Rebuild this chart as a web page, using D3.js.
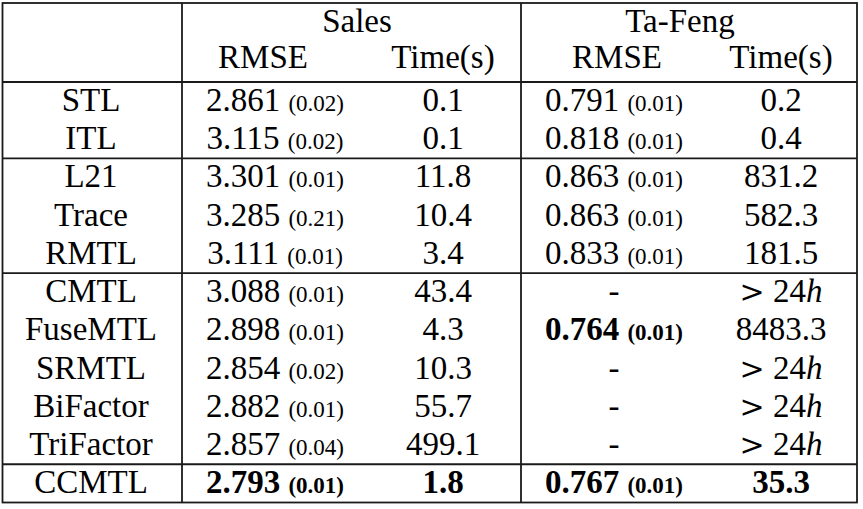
<!DOCTYPE html>
<html>
<head>
<meta charset="utf-8">
<script src="https://cdn.jsdelivr.net/npm/d3@7"></script>
<style>
  html, body { margin: 0; padding: 0; background: #fff; }
</style>
</head>
<body>
<div id="main"></div>
<script>
// table values
const datasets = ["Sales", "Ta-Feng"]
const metrics = ["RMSE", "Time(s)"]
const methods = ["STL", "ITL", "L21", "Trace", "RMTL", "CMTL", "FuseMTL", "SRMTL", "BiFactor", "TriFactor", "CCMTL"]
const salesRMSE = [2.861, 3.115, 3.301, 3.285, 3.111, 3.088, 2.898, 2.854, 2.882, 2.857, 2.793]
const salesStd = [0.02, 0.02, 0.01, 0.21, 0.01, 0.01, 0.01, 0.02, 0.01, 0.04, 0.01]
const salesTime = [0.1, 0.1, 11.8, 10.4, 3.4, 43.4, 4.3, 10.3, 55.7, 499.1, 1.8]
const tfRMSE = [0.791, 0.818, 0.863, 0.863, 0.833, null, 0.764, null, null, null, 0.767]
const tfStd = [0.01, 0.01, 0.01, 0.01, 0.01, null, 0.01, null, null, null, 0.01]
const tfTime = [0.2, 0.4, 831.2, 582.3, 181.5, null, 8483.3, null, null, null, 35.3]
const groupEnds = [1, 4, 9]           // separator lines after these rows
const boldRMSE = { sales: [10], tf: [6, 10] }
const boldTime = { sales: [10], tf: [10] }

const width = 863, height = 509
const FONT = "Liberation Serif"
const svg = d3.select("#main").append("svg")
  .attr("width", width).attr("height", height)

const x0 = 2.5, x1 = 857, y0 = 3, headBottom = 82, y1 = 502.5
const y = d3.scaleLinear().domain([0, methods.length]).range([headBottom, y1])
const big = 33, small = 23, baseOff = 29

// column centres
const col = { name: 91, sRMSE: 275, sTime: 443, tRMSE: 614, tTime: 781 }
const f3 = d3.format(".3f"), f2 = d3.format(".2f"), f1 = d3.format(".1f")

// lines
const lines = svg.append("g").attr("stroke", "#1a1a1a").attr("stroke-width", 1.8)
lines.append("rect").attr("x", x0).attr("y", y0)
  .attr("width", x1 - x0).attr("height", y1 - y0).attr("fill", "none")
;[182, 521].forEach(x => lines.append("line")
  .attr("x1", x).attr("x2", x).attr("y1", y0).attr("y2", y1))
;[headBottom, ...groupEnds.map(i => y(i + 1))].forEach(v => lines.append("line")
  .attr("x1", x0).attr("x2", x1).attr("y1", v).attr("y2", v))

const addText = (g, x, yy) => g.append("text")
  .attr("x", x).attr("y", yy)
  .attr("font-family", FONT).attr("font-size", big)
  .attr("text-anchor", "middle").attr("fill", "#000")

// header
const head = svg.append("g")
addText(head, 357, 32).text(datasets[0])
addText(head, 680, 32).text(datasets[1])
;[[263, metrics[0]], [443, metrics[1]], [617, metrics[0]], [781, metrics[1]]].forEach(([x, t]) =>
  addText(head, x, 68).text(t))

// body
const body = svg.append("g")

function rmseCell(x, yy, v, s, bold) {
  const t = addText(body, x, yy)
  if (v == null) { t.text("-"); return }
  t.append("tspan").attr("font-family", FONT).attr("font-weight", bold ? "bold" : null).text(f3(v) + " ")
  t.append("tspan").attr("font-family", FONT).attr("font-size", small)
    .attr("font-weight", bold ? "bold" : null)
    .text("(" + f2(s) + ")")
}
function timeCell(x, yy, v, bold) {
  const t = addText(body, x, yy)
  if (v == null) {
    t.append("tspan").attr("font-family", "DejaVu Serif").attr("font-size", 30).text(">")
    t.append("tspan").attr("font-family", FONT).text(" 24")
    t.append("tspan").attr("font-family", FONT).attr("font-style", "italic").text("h")
    return
  }
  t.attr("font-weight", bold ? "bold" : null).text(f1(v))
}

methods.forEach((m, i) => {
  const yy = y(i) + baseOff
  addText(body, col.name, yy).text(m)
  rmseCell(col.sRMSE, yy, salesRMSE[i], salesStd[i], boldRMSE.sales.includes(i))
  timeCell(col.sTime, yy, salesTime[i], boldTime.sales.includes(i))
  rmseCell(col.tRMSE, yy, tfRMSE[i], tfStd[i], boldRMSE.tf.includes(i))
  timeCell(col.tTime, yy, tfTime[i], boldTime.tf.includes(i))
})
</script>
</body>
</html>
